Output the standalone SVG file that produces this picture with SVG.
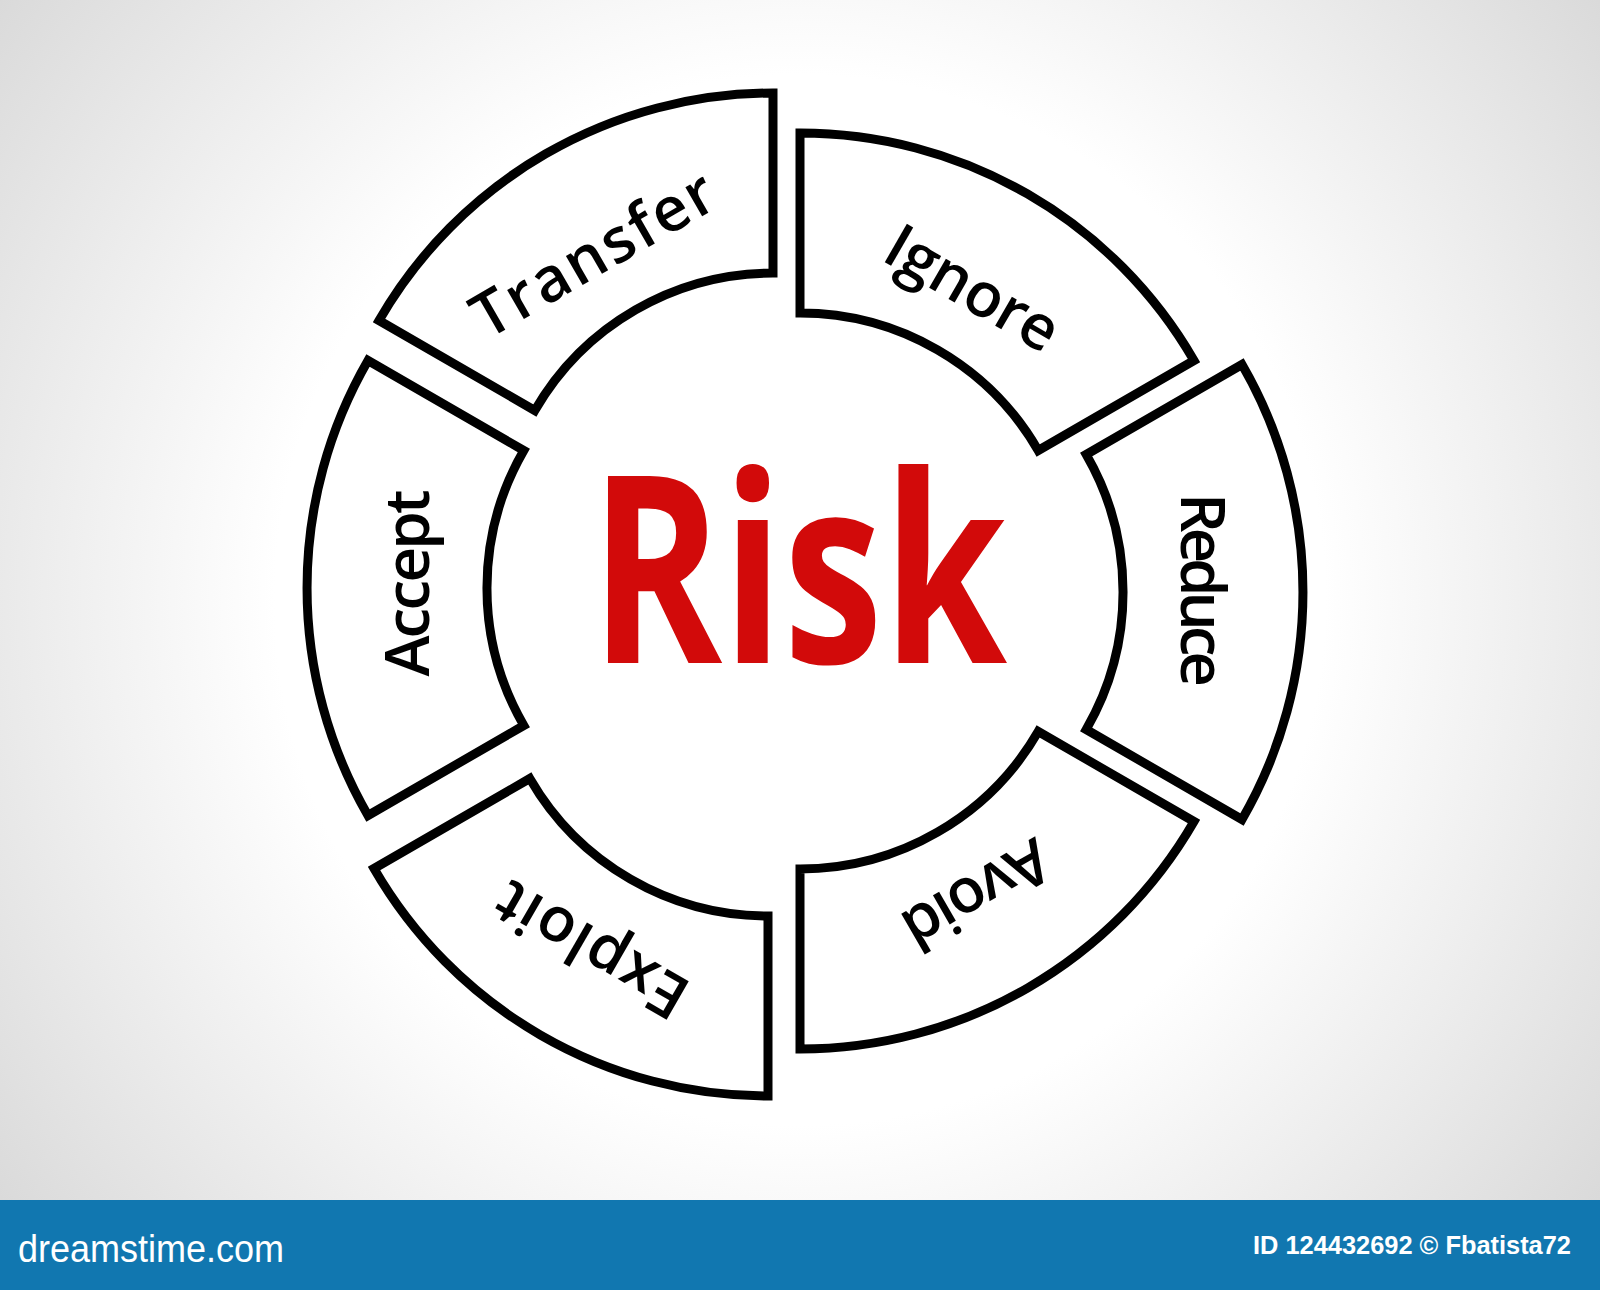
<svg xmlns="http://www.w3.org/2000/svg" width="1600" height="1290" viewBox="0 0 1600 1290">
  <defs>
    <radialGradient id="bg" gradientUnits="userSpaceOnUse" cx="800" cy="600" r="1050">
      <stop offset="0" stop-color="#ffffff"/>
      <stop offset="0.5" stop-color="#ffffff"/>
      <stop offset="1" stop-color="#d6d6d6"/>
    </radialGradient>
    <style>
      .seg { fill: #ffffff; stroke: #000000; stroke-width: 9; stroke-linejoin: miter; }
      .lbl { font-family: "Open Sans", "Noto Sans", "DejaVu Sans", sans-serif; font-weight: 600; font-size: 62px; fill: #000000; text-anchor: middle; dominant-baseline: central; }
      .risk { font-family: "Open Sans", "Noto Sans", sans-serif; font-weight: 700; font-size: 262px; fill: #d20a0a; }
      .foot { font-family: "Liberation Sans", "DejaVu Sans", sans-serif; fill: #ffffff; }
    </style>
  </defs>

  <rect x="0" y="0" width="1600" height="1290" fill="url(#bg)"/>

  <g id="transfer">
    <path class="seg" d="M 773 93 A 455 455 0 0 0 379 320.5 L 534.8 410.5 A 275 275 0 0 1 773 273 Z"/>
    <text class="lbl" transform="translate(592 252) rotate(-30)" textLength="270" lengthAdjust="spacing">Transfer</text>
  </g>

  <g id="ignore">
    <path class="seg" d="M 800 133 A 455 455 0 0 1 1194 360.5 L 1038.2 450.5 A 275 275 0 0 0 800 313 Z"/>
    <text class="lbl" transform="translate(974 286) rotate(30)" textLength="190" lengthAdjust="spacing">Ignore</text>
  </g>

  <g id="reduce">
    <path class="seg" d="M 1242 364.5 A 455 455 0 0 1 1242 819.5 L 1086.2 729.5 A 275 275 0 0 0 1086.2 454.5 Z"/>
    <text class="lbl" transform="translate(1205 590) rotate(90)" textLength="194" lengthAdjust="spacing">Reduce</text>
  </g>

  <g id="avoid">
    <path class="seg" d="M 1194 821.5 A 455 455 0 0 1 800 1049 L 800 869 A 275 275 0 0 0 1038.2 731.5 Z"/>
    <text class="lbl" transform="translate(978 897) rotate(150)" textLength="160" lengthAdjust="spacing">Avoid</text>
  </g>

  <g id="exploit">
    <path class="seg" d="M 768 1096 A 455 455 0 0 1 374 868.5 L 529.8 778.5 A 275 275 0 0 0 768 916 Z"/>
    <text class="lbl" transform="translate(590 952) rotate(210)" textLength="212" lengthAdjust="spacing">Exploit</text>
  </g>

  <g id="accept">
    <path class="seg" d="M 368 360.5 A 455 455 0 0 0 368 815.5 L 523.8 725.5 A 275 275 0 0 1 523.8 450.5 Z"/>
    <text class="lbl" transform="translate(405 583) rotate(-90)" textLength="187" lengthAdjust="spacing">Accept</text>
  </g>

  <g id="risk">
    <text class="risk" x="590" y="663" textLength="417" lengthAdjust="spacingAndGlyphs">Risk</text>
  </g>

  <g id="connectors"/>

  <g id="footer">
    <rect x="0" y="1200" width="1600" height="90" fill="#1177b0"/>
    <text class="foot" x="18" y="1262" font-size="38" textLength="266" lengthAdjust="spacingAndGlyphs">dreamstime.com</text>
    <text class="foot" x="1571" y="1254" font-size="26" font-weight="bold" text-anchor="end" textLength="318" lengthAdjust="spacingAndGlyphs">ID 124432692 © Fbatista72</text>
  </g>
</svg>
